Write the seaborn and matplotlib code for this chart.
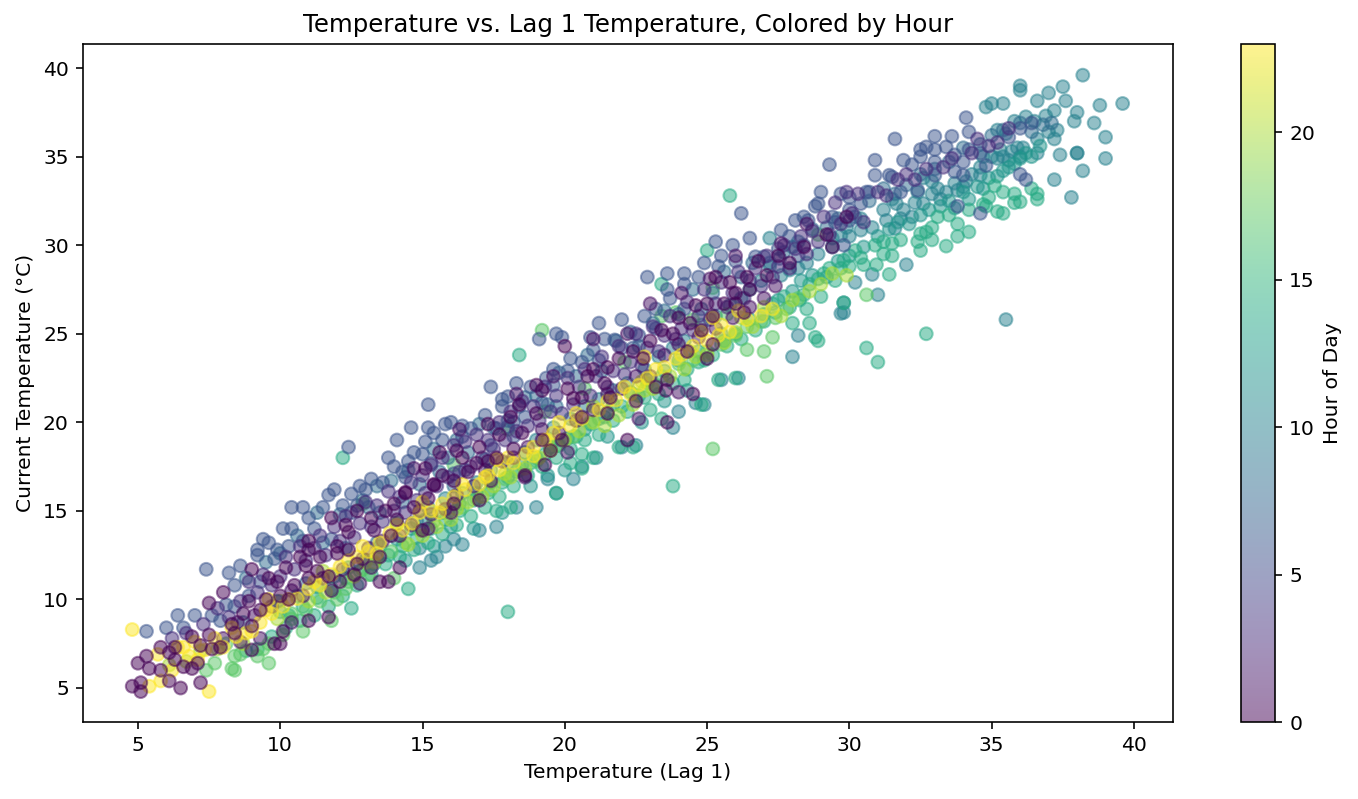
import numpy as np
import pandas as pd
import matplotlib
matplotlib.use('Agg')
import matplotlib.pyplot as plt
import seaborn as sns
from matplotlib.cm import ScalarMappable
from matplotlib.colors import Normalize

# (lag 1 temperature, current temperature), one list per hour group
teal_points = [(38.2,39.6),(39.6,38),(36,39),(36,38.75),(37.5,38.95),(37,38.6),(36.6,38.15),(37.6,38.15),(38.8,37.9),(35.4,38),(35,38),(34.8,37.8),
    (37.2,37.6),(38,37.5),(37.9,37),(38.6,36.9),(39,36.1),(38,35.2),(38,35.2),(39,34.9),(38.2,34.2),(37.4,35.1),(37.2,33.7),(37.8,32.7),(35.5,25.8),
    (34.7,35),(35.2,36.5),(35.5,36.3),(35.9,35.5),(36.1,35.5),(36.6,35.2),(36.6,36),(37,36.4),(37.3,36.5),(36.5,37),(36.2,37.25),(35.8,37),(36.9,37.3),
    (37.2,36),(35.4,35),(35.2,34.9),(34.6,33.95),(34,33.3),(33.8,33.1),(33.4,33),(33.2,32.6),(32.9,33.6),(32.6,33.8),(32.4,33),(32.2,31.6),(32.6,32.35),
    (31.8,31.5),(31.6,30.95),(31.2,32),(31.5,32.6),(31.65,32.35),(30.4,30.85),(30,30.5),(29.7,30.55),(29.4,29.9),(28,29.9),(27.2,30.4),(27.9,28.6),(28.2,28.7),
    (27.2,28.8),(30.2,27.9),(31,27.2),(29.7,26.15),(29.8,26.2),(29.8,26.75),(28,23.7),(28.2,24.9),(30.8,28.35),(32,28.9),(35.6,34.8),(36,35),(35.7,35.3),
    (35.3,35.4),(35,35),(34.6,34.4),(34.3,34),(34.1,33.6),(33.7,33.5),(33.1,33.2),(32.9,32.9),(32.3,32.4),(31.9,32),(31.3,31.4),(30.8,31),(30.4,31.5),
    (29.9,31),(29.4,30.4),(28.9,29.5),(28.5,29),(27.6,28.3),(26.9,28),(26.5,27.5),(26.2,27),(25.8,26.6),(25.3,26),(24.8,25.5),(24.2,24.6),(23.8,24.2),
    (23.3,23.7),(22.8,23),(22.2,22.2),(21.7,21.8),(21.2,21.3),(20.7,20.9),(20.2,20.2),(19.6,19.7),(19,19),(18.6,18.3),(18,17.7),(17.4,17.3),(16.9,16.6),
    (16.4,16),(15.8,15.7),(15.2,15.2),(14.9,11.8),(15.3,12.2),(15.5,12.4),(14.9,12.9),(15.8,13),(16.1,13.4),(16.4,13.1),(17,13.9),(17.6,14.1),(18.3,15.2),
    (19,15.2),(19.7,16),(20.3,16.8),(20.6,17.5),(21.1,18),(22,18.6),(22.5,18.7),(23.8,19.7),(24,20.6),(24.6,21.1),(24.9,21),(25.5,22.4),(26.1,22.5),(19.4,16.8)]

deep_teal_points = [(30.5,29.9),(31,30.5),(31.4,30.9),(31.7,31.3),(32.1,31.2),(32.5,31.7),(32.8,32),(33.2,32.2),(33.5,32.5),(33.7,32.1),(34,33),(34.2,32.6),(34.5,33.3),(34.7,33.2),
    (34.9,33.8),(35.2,33.9),(35.4,34.2),(35.6,34.4),(35.8,34.6),(36,34.9),(36.2,35.2),(36.4,35),(36.7,35.6),(27,26.1),(27.5,26.9),(28,27.4),(28.3,28),(28.7,28.3),(29.2,28.2),(29.6,29.1),
    (30,29.4),(25.5,25),(24.7,24),(24,23.5),(23.5,22.9),(22.9,22.4),(22.3,21.7),(21.7,21),(21.2,20.2),(20.7,19.6),(20.1,19.1),(19.5,18.6),(19,18),(18.5,17.6),(18,16.9),(17.4,16.6),
    (16.9,16),(16.3,15.4),(15.7,14.9),(15.1,14.5),(14.6,14),(14.1,13.4),(13.5,13),(13,12.2),(12.4,11.8),(11.9,11.3),(11.3,10.7),(10.6,10.2),(10,9.3),(18.8,16.4),(19.4,17),(20,17.3),
    (21.5,19.2),(22.7,20),(23.5,21.2),(24.3,21.8),(17.8,14.9),(16.8,14),(16,14.1),(15.4,13),(14.4,12.2)]

green_points = [(18,9.3),(23.8,16.4),(25.8,32.8),(12.2,18),(18.4,23.8),(25,29.7),(32.7,25),(30.6,24.2),(31,23.4),(14.5,10.6),(23.4,27.8),
    (29.8,26.75),(28.9,24.6),(28.8,24.8),(33.4,29.95),(33.8,30.5),(34.2,30.75),(31.4,28.35),(34.7,32.3),(34.8,32.2),(35.2,31.9),(35.4,31.8),(35.8,32.4),
    (36,32.45),(36.4,33.2),(36.6,32.6),(36.6,32.9),(35.4,33),(35.8,32.9),(35.1,33.35),(34.9,32.7),(34.2,32),(33.8,31.2),(33.5,31.7),(33.1,31.6),(32.9,31),
    (32.7,30.75),(32.5,30.65),(32.4,30.2),(32.5,29.7),(32.9,30.3),(31.8,30.3),(31.5,30.1),(31.2,30.2),(30.9,30),(31.5,29.4),(31.2,29.5),(30.95,28.9),
    (30.5,28.9),(30,28.8),(29.7,28.7),(29.3,28.7),(30.2,29.7),(30.4,29.3),(29.8,29.15),(28.9,28.1),(28.6,27.8),(29,27.1),(28.25,26.9),(28.5,26.4),(28,25.6),
    (28.6,25.6),(27.7,27.1),(29.5,28),(29.1,28.4),(28.4,27.2),(27.9,26.5),(27.4,26.2),(27,25.7),(26.7,25.2),(26.2,24.7),(25.7,24.3),(25.2,23.8),(24.7,23.4),
    (24.3,23),(23.8,22.2),(23.3,21.6),(22.8,21.4),(22.2,20.6),(21.7,20.1),(21.2,19.3),(20.7,19),(20.2,18.5),(19.7,18),(19.2,17.5),(18.7,17),(18.2,16.4),
    (17.7,15.8),(17.2,15.2),(16.7,14.7),(16.2,14.2),(15.7,13.7),(15.2,13.2),(14.7,12.8),(14.2,12.4),(13.7,12),(13.2,11.4),(12.7,10.8),(12.2,10.2),(12.5,9.5),
    (11.7,9.6),(11.2,9.1),(10.7,8.8),(10.2,8.4),(9.7,7.9),(9.2,7.2),(8.8,7.1),(20.6,18.2),(21,18),(20.6,17.4),(22.4,18.6),(21.9,18.6),(23.4,20.2),(23,20.7),
    (24.8,21),(25.4,22.4),(26,22.5),(19.7,16),(20.2,17.7),(17.6,15),(18.1,15.2),(24.2,22.4),(24.9,23.5),(25.6,24.6),(26.5,25.8),(27.3,26.7),(26,25),
    (23.2,22.1),(22.6,21.5),(22,20.9),(21.4,20.3),(20.9,19.9),(20.4,19.2),(19.8,18.7),(19.3,18.2),(18.8,17.7),(18.3,17.2),(17.8,16.6),(17.3,16),(16.8,15.6),
    (16.3,15),(15.8,14.5),(15.3,14),(14.8,13.5),(14.3,13),(13.8,12.5),(13.3,12),(12.8,11.6),(12.3,11.2),(11.8,10.6),(11.3,10.1),(10.8,9.6),(10.3,9.1)]

lightgreen_points = [(19.2,25.2),(25.2,18.5),(27.1,22.6),(30.6,27.2),(28.9,30.6),(27,24),(23.9,26.2),(23.4,26),(20.9,20),(21.5,20.6),(22.4,21.6),(22.9,22.2),(23.4,22.6),(24,23.3),
    (24.5,23.5),(25,24),(25.5,24.4),(26,24.9),(26.4,25.4),(26.9,25.7),(27.4,25.9),(27.8,26.4),(28.2,27),(20.3,19.2),(19.7,18.7),(19,17.8),(18.4,17.3),(17.9,16.8),(17.4,16.2),
    (16.9,15.7),(16.4,15.2),(15.9,14.9),(15.4,14.4),(14.9,13.9),(14.4,13.2),(13.9,12.7),(13.4,12.3),(12.9,11.7),(12.4,11),(11.9,10.4),(11.4,9.9),(10.9,9.4),(10.4,8.9),
    (10.8,8.2),(10.1,8),(9.2,6.8),(9.4,7.2),(8.6,6.9),(8.4,6.8),(8.1,7.5),(7.7,6.4),(7.4,6),(9.6,7.5),(10.4,9.2),(12,10),(12.3,10.6),(13.1,11.4),(14,11.2),(11.8,8.8),(9.6,6.4),(8.4,6),(8.3,6.1),
    (12.9,15.4),(14.1,14.3),(16.1,17.6),(18,19.6),(19.3,20.6),(20.7,21.9),(22.1,23.4),(24.5,25.8),(25.2,27.6),(25.7,26.1),(26.4,24.1),(27.3,24.8)]

lime_points = [(8.7,7.5),(9.9,8.9),(11,9.9),(11.6,10.4),(12.6,11.3),(13.3,12.1),(14.5,13.1),(15,13.6),(15.5,14.1),(16,14.5),(16.6,15.5),(17.1,15.8),(17.5,16.4),(18.1,16.9),(18.6,17.4),(19.1,18),
    (19.5,18.4),(20,19),(20.5,19.5),(21,20),(21.4,19.8),(21.9,20.4),(22.4,21),(22.8,21.8),(23.1,21.9),(23.7,22.6),(24.2,23),(24.6,23.7),(25,23.8),(25.6,24.5),(26,25.1),(26.6,25.4),(27,26.5),
    (27.6,26),(28,26.9),(28.6,27.4),(29,27.8),(29.4,28.4),(29.9,28.3),(16.2,15.1),(17.9,17.1),(19.4,19),(21,20.9),(22.7,22.3),(24.4,24),(26.2,25.9),(13,12.1),(11.5,11.6),(10,9.9),(7.8,7.2),(7.2,7.1),(6.7,6.5),(6.1,6.3)]

slate_points = [(8.8,11.2),(9.5,12.1),(10,12.6),(10.6,13.6),(11.3,14.9),(11.5,13.2),(12.1,14.8),(12.9,15.6),(13.1,15.2),(13.4,16.4),(13.5,14.9),(13.9,16.7),(14.3,15.5),(14.5,17.3),(14.9,16.5),
    (15.4,18.5),(15.6,17.2),(15.9,18),(16.2,19),(16.6,18.3),(17,19.9),(17.5,19.7),(18,20.1),(18.6,21.4),(19,21.5),(19.4,21),(19.8,22.8),(20.4,22.6),(20.8,23.8),(21.3,22.9),(21.8,24.6),(22.3,25.1),
    (22.6,24.3),(23.1,25.6),(23.5,26.3),(24,26.1),(24.5,27.5),(24.8,26.4),(25.2,27.3),(25.6,28.5),(26.2,28.2),(26.6,29),(27.2,29),(27.7,29.6),(28.2,30.2),(28.7,30.9),(29.2,31),(29.6,31.5),(30.2,31.6),
    (30.7,32.5),(31.2,33.2),(31.6,32.9),(32,33.4),(32.5,34),(33,34.3),(33.5,34.7),(34,35.5),(34.6,35.7),(35,36.2),(35.4,36.5),(36,36.9),(36.4,36.4),(36.8,36.8),(37.1,36.9),(19.7,20.9),(17.2,17.9),
    (16.1,16.4),(14.8,14.4),(13.4,13.2),(12.3,12.9),(10.9,10.9),(9.9,9.9),(8.7,8.7)]

blue_points = [(5.3,8.2),(6,8.4),(6.6,8.4),(6.4,9.1),(7,9.1),(7.4,11.7),(8.2,11.5),(8.4,10.8),(8.6,11.9),(10.4,15.2),(10.8,15.2),(10.1,14),(10.4,14),
    (9.4,13.4),(9.6,13.2),(9.2,12.8),(9.2,12.5),(9.8,12.3),(10.3,13),(10.8,13.3),(11.9,16.2),(11.7,15.9),(12.5,15.96),(12.8,16.4),(11,14.6),(11.2,14),
    (11.8,13.4),(11.5,15.2),(12.2,15.3),(12.7,15.3),(12.4,18.6),(15.2,21),(17.4,22),(18.3,22.2),(15.2,19.7),(16,20),(15.8,19.9),(16.4,19.8),(17.2,20.4),
    (17.8,21.3),(18,21.45),(17.8,20.9),(18.8,22),(19.35,22.5),(19.6,22.1),(19.2,21.1),(18.4,20.9),(18.6,20.3),(17.6,19.65),(18.2,20),(18,19.75),(18.2,19.2),
    (17.4,18.7),(16.4,19.2),(16.7,19.65),(15.4,19.4),(15.7,19),(15.1,18.9),(14.7,18.3),(15,18.2),(15.3,17.7),(14.5,17.8),(14.3,17.2),(16.1,17.1),(16.5,17.3),
    (22.9,28.2),(23.6,28.4),(24.2,28.4),(24.2,27.8),(24.7,28.2),(23.6,27.5),(23.7,27),(23.2,26.4),(21.2,25.6),(22,25.8),(22.8,26),(19.7,25),(19.9,24.8),(19.1,24.7),
    (20.9,24.8),(21.4,24.7),(21.75,24.65),(21,24.1),(22.4,24.2),(19.6,23),(20.2,23.6),(20.6,23.4),(20.1,22.9),(21.2,23.5),(22,24.2),(22.6,24.9),(23.2,25.3),(24.2,26.4),
    (29.7,32.9),(29,33),(30,32.7),(30.4,32.35),(30.6,33),(30.7,33),(28.9,32.35),(28.8,32.2),(28.4,31.6),(28.1,31.4),(28.55,31.4),(29.4,31.6),(29.5,31.3),(30,32),
    (30,31.4),(27.6,30.85),(27.9,30.5),(28.4,30),(29.8,30),(26.7,29.35),(27,29.35),(27.5,29.8),(27.55,29.25),(28.2,29.4),(33,33.95),(33.7,34.15),(34,33.95),(34.8,34.5),
    (36,34),(36.2,33.7),(34.6,31.8),(33.8,32.2),(31.8,33),(32.4,33.1),(34,34.7),(33.7,35.1),(34.2,35.4),(34.6,35.2),(35.6,36.1),(36.4,36.9),(36,36.6),
    (34.1,37.2),(31.6,36),(29.3,34.55),(30.9,34.8),(30.9,33.95),(33,36.15),(33.6,36.15),(34.2,36.4),(32.7,35.55),(32.5,35.4),(33,35.4),(33.4,35.55),(33,34.7),
    (31.9,34.8),(32.2,34.55),(32.5,35),(31.5,33.85),(31.4,33.95),(26.2,31.8),(25.3,30.2),(25.9,30),(26.5,30.4),(25.5,29.4),(24.9,29),(25.4,28.8),(26,29.1),
    (13.2,16.8),(13.6,16.6),(14,17.5),(14.4,16.9),(14.1,19),(14.6,19.7),(13.8,18),(13,16.2),(12.5,14.9),(9.9,12.8),(8.9,10.2),(8.1,9.7),(7.6,9.1),(7.9,8.8),(8.4,9.6),(9.3,11)]

indigo_points = [(6.2,7.8),(6.7,8.1),(7.3,8.6),(7.8,9.5),(8.2,9),(8.6,9.9),(8.9,11),(9.2,10.4),(9.4,11.4),(9.7,10.8),(10,11.3),(10.2,12.4),(10.5,11.7),(10.7,13),(10.9,12.2),(11.2,12.9),(11.4,13.6),(11.6,12.5),
    (11.9,14.1),(12.1,13.3),(12.3,14.7),(12.6,13.5),(12.8,14.3),(13,15.5),(13.2,14.1),(13.4,15.3),(13.6,14.4),(13.8,16.1),(14,15),(14.2,15.8),(14.4,14.9),(14.6,16.6),(14.8,15.6),(15,17),(15.1,16),(15.3,17.6),
    (15.5,16.4),(15.7,18),(15.9,16.9),(16.1,18.7),(16.3,17.2),(16.5,18.9),(16.7,17.5),(16.9,19.3),(17.1,18),(17.3,19),(17.5,18.5),(17.7,20),(17.9,19),(18.1,20.6),(18.3,19.5),(18.5,21.2),(18.7,19.8),(18.9,20.9),
    (19.1,20.1),(19.3,22),(19.5,20.6),(19.7,21.5),(19.9,20.5),(20.1,22.5),(20.3,21),(20.5,22),(20.7,23),(20.9,21.5),(21.1,22.6),(21.3,23.7),(21.5,22),(21.7,22.9),(21.9,24.3),(22.1,22.7),(22.3,23.4),(22.5,25),
    (22.7,23.2),(22.9,24.2),(23.1,25.4),(23.3,24),(23.5,24.9),(23.7,26),(23.9,24.7),(24.1,25.3),(24.3,26.8),(24.5,25.2),(24.7,26),(24.9,27.5),(25.1,25.8),(25.3,26.7),(25.5,27.9),(25.7,26.5),(25.9,27.3),(26.1,28.5),
    (26.3,27),(26.5,28),(26.7,28.7),(26.9,27.7),(27.1,29.4),(27.3,28.2),(27.5,28.8),(27.7,30),(27.9,28.7),(28.1,29.8),(28.3,30.5),(28.5,29.5),(28.7,30.8),(28.9,30.2),(29.1,31.6),(29.3,30.6),(29.5,32.4),(29.7,31.2),
    (29.9,33),(30.1,31.8),(30.3,32.9),(30.5,31.3),(31,33),(31.3,32.8),(31.7,33.7),(32,34),(32.3,33.7),(32.7,34.3),(33.3,34.4),(33.6,34.9),(34.3,35.2),(34.5,36),(34.9,35.6),(35.2,35.8),(35.6,36.6)]

yellow_points = [(4.8,8.3),(5.4,5.1),(5.8,5.4),(6.2,6),(6.4,7.3),(6.8,6.8),(7.35,7.15),(7.5,4.8),(8,7.3),(8.45,7.9),(8.8,8.1),(9.3,8.7),(9.7,9.2),(10.1,9.6),(10.6,10.05),(11,10.6),
    (11.4,10.8),(12.1,11.85),(12.4,12.2),(12.7,12.4),(13.1,12.7),(13.5,13.2),(13.85,13.75),(14.3,13.9),(14.65,14.3),(15.3,15),(15.7,15.4),(16.1,15.8),(16.5,16.2),(17,16.5),(17.3,17),
    (17.7,17.3),(18.2,17.7),(18.6,18.2),(18.9,18.6),(19.3,19),(19.6,19.4),(20.2,19.8),(20.6,20.2),(21.2,20.7),(21.8,21.25),(22.3,21.6),(22.6,22.1),(22.9,22.5),(23.5,23.1),(23.9,23.6),
    (24.5,24.3),(25,24.6),(25.4,24.9),(25.8,25.1),(26.4,25.8),(26.9,26),(27.3,26.4),(7,7.6),(7.7,7.8),(8.3,8.4),(9,8.2),(9.5,9.4),(10.3,10),(11.2,11),(11.8,11.4),(12.9,13),(13.4,12.6),
    (14.1,14.2),(14.9,14.9),(15.6,14.9),(16.4,16.5),(17.2,16.9),(18,18),(18.9,18.1),(19.8,20),(20.4,20.5),(21.5,21.2),(22.1,22),(23.2,23),(24.1,23.8),(24.8,25.1),(25.5,25.5),(26.1,26.3),
    (5.7,6.9),(6.6,7.3),(7.1,6.6),(9.6,10),(15,15.5),(17.6,17.9),(22.8,23.7),(25.2,25.9)]

dark_points = [(8,7.8),(8.5,8.7),(9.1,9.1),(9.7,9.6),(10.4,10.5),(10.8,10.2),(11.5,11.2),(12.2,11.7),(12.9,12.3),(13.1,12.9),(13.6,13.3),(14.2,13.6),(14.6,14.2),(14.9,15),(15.3,14.8),(15.8,15.1),
    (16.2,15.9),(16.8,16.4),(17.2,17.3),(17.8,17.8),(18.2,18),(18.7,18.6),(19.2,19.6),(19.8,19.4),(20.4,20.1),(21,20.7),(21.5,21.6),(22,21.9),(22.5,22.6),(23,22.6),(23.5,23.8),(24,24.4),(24.7,24.8),
    (25.3,25.3),(25.9,25.9),(26.5,26.5),(27,27),(27.4,27.7),(15.2,14),(16,14.9),(17.4,16.7),(18.6,16.9),(20.1,18.3),(22.6,20.2),(24,21.7),(13.2,11.8),(11.8,10.5),(12.8,10.9),(10.4,8.7),(9.3,7.8),(8.6,7.6),
    (14.7,17.4),(16.3,19.6),(18.3,21.6),(19.6,22.6),(21,24.7),(22.2,25),(23,26.7),(24.1,27.3),(25.1,28.1),(26,29.4),(27.6,30.1),(28.5,31.2)]

purple_points = [(4.8,5.1),(5.1,4.8),(5.1,5.3),(5,6.4),(5.3,6.8),(5.4,6.1),(5.8,6),(5.8,7.3),(6.1,5.4),(6.5,5),(7.2,5.3),(6.1,7),(6.3,6.6),(6.6,6.2),(6.9,6.1),(7.1,6.4),
    (6.3,7.3),(6.9,7.9),(7.2,7.4),(7.5,8),(7.6,7.2),(7.5,9.8),(8,10.4),(7.9,7.3),(8.3,8.6),(8.7,9.2),(8.4,8.1),(9,8.5),(9,7.15),(9.8,7.5),(10,7.5),(10.1,8.2),(11,8.8),
    (11.7,9),(9,11.7),(9.6,11.2),(10.2,11.8),(9.5,10),(9.3,9.4),(10,10.2),(10.5,10.8),(10.3,10),(11.3,11.6),(11.7,11.3),(12.1,11),(12.6,11.4),(12.7,12),(13.5,12.4),(11,11.2),
    (10.9,11.9),(12,12.6),(13.9,13.6),(15,13.9),(13.3,13.9),(12.4,13.8),(12.7,15),(11.8,14.6),(11,13.3),(11,12.8),(12,13),(12.4,12.8),(14.4,16),(15.4,16.5),(14,15.4),(14.2,11.8),
    (13.5,11),(13.8,11),(14.1,14.5),(14.7,15.2),(15.2,15.7),(15.7,17),(16.1,16.7),(15.4,16.45),(14.4,16.05),(16.1,15.4),(17,15.6),(16.6,17.2),(17.3,17.8),(16.4,18),(17,18.6),
    (17.7,19.3),(18.2,18.5),(17.6,18),(18.5,19.4),(19,20.5),(19.2,19),(19.5,18.4),(19.3,17.6),(18.6,17),(19.9,19),(20.6,20.3),(21.5,20.5),(22.5,21.2),(22.2,19),(23.6,20),
    (24.5,21.6),(23.2,22),(23.6,22.4),(23.55,21.8),(24.3,24),(25,23.6),(25.2,24.4),(21.6,21.4),(20.6,21.4),(20.3,21.35),(21.4,22.2),(21,23),(21.9,23.6),(22.75,23.6),(23.8,25),
    (24.4,25.6),(25,26.7),(25.6,26.7),(26,26.7),(25.3,28.2),(25.8,27.9),(26.4,28.2),(22.4,24),(23,24.6),(23.4,25.2),(24,25.9),(24.6,26.6),(20,24.3),(19,22.1),(18.4,21),(19.2,21.8),
    (18.1,20.3),(17.3,19.9),(20.1,21.9),(20.8,22.6),(21.5,23.1),(26.8,29.1),(27.5,29.4),(27.1,28.3),(26.5,27.5),(27.9,29),(28.4,29.9),(29.4,29.9),(29.2,30.6),(29.9,31.6),
    (26,27.3),(25.2,26),(24.8,25.2),(26.3,26.2),(15.1,17.4),(15.6,18.3),(16.2,18.4),(16.9,17.7),(13.2,14.6),(13.7,15),(12.3,14.2),(11.4,12.4),(10.7,12.4),(9.9,11),(8.9,9.9)]

# hour values used for colouring, from the colorbar
teal_hour = 10
deep_teal_hour = 12
green_hour = 14
lightgreen_hour = 17
lime_hour = 20
slate_hour = 8
blue_hour = 6
indigo_hour = 3
yellow_hour = 23
dark_hour = 1
purple_hour = 0
hour_ticks = [0, 5, 10, 15, 20]
x_ticks = [5, 10, 15, 20, 25, 30, 35, 40]
y_ticks = [5, 10, 15, 20, 25, 30, 35, 40]


def build_frame():
    """Stack the hour groups in drawing order"""
    groups = [(teal_points, teal_hour), (deep_teal_points, deep_teal_hour), (green_points, green_hour),
              (lightgreen_points, lightgreen_hour), (lime_points, lime_hour), (slate_points, slate_hour),
              (blue_points, blue_hour), (indigo_points, indigo_hour), (dark_points, dark_hour),
              (yellow_points, yellow_hour), (purple_points, purple_hour)]
    frames = []
    for points, hour in groups:
        part = pd.DataFrame(points, columns=['lag', 'temp'])
        part['hour'] = hour
        frames.append(part)
    return pd.concat(frames, ignore_index=True)


def main():
    df = build_frame()

    fig = plt.figure(figsize=(1358 / 146, 799 / 146), dpi=146)
    ax = fig.add_axes([83 / 1358, 1 - 722 / 799, 1090 / 1358, 678 / 799])
    cax = fig.add_axes([1241 / 1358, 1 - 722 / 799, 34 / 1358, 678 / 799])

    sns.scatterplot(data=df, x='lag', y='temp', hue='hour', palette='viridis', hue_norm=(0, 23),
                    s=40, alpha=0.5, edgecolor='face', linewidth=1.0, legend=False, ax=ax)

    ax.set_xlim(3.07, 41.37)
    ax.set_ylim(3.08, 41.36)
    ax.set_xticks(x_ticks)
    ax.set_yticks(y_ticks)
    ax.set_title('Temperature vs. Lag 1 Temperature, Colored by Hour', fontsize=12)
    ax.set_xlabel('Temperature (Lag 1)', fontsize=10)
    ax.set_ylabel('Current Temperature (°C)', fontsize=10)

    # seaborn has no colorbar for hue, so build it from the same norm
    sm = ScalarMappable(norm=Normalize(0, 23), cmap='viridis')
    cbar = fig.colorbar(sm, cax=cax, alpha=0.5)
    cbar.set_ticks(hour_ticks)
    cbar.set_label('Hour of Day', fontsize=10)

    fig.savefig('out.png', dpi=146)
    plt.close(fig)


if __name__ == "__main__":
    main()
